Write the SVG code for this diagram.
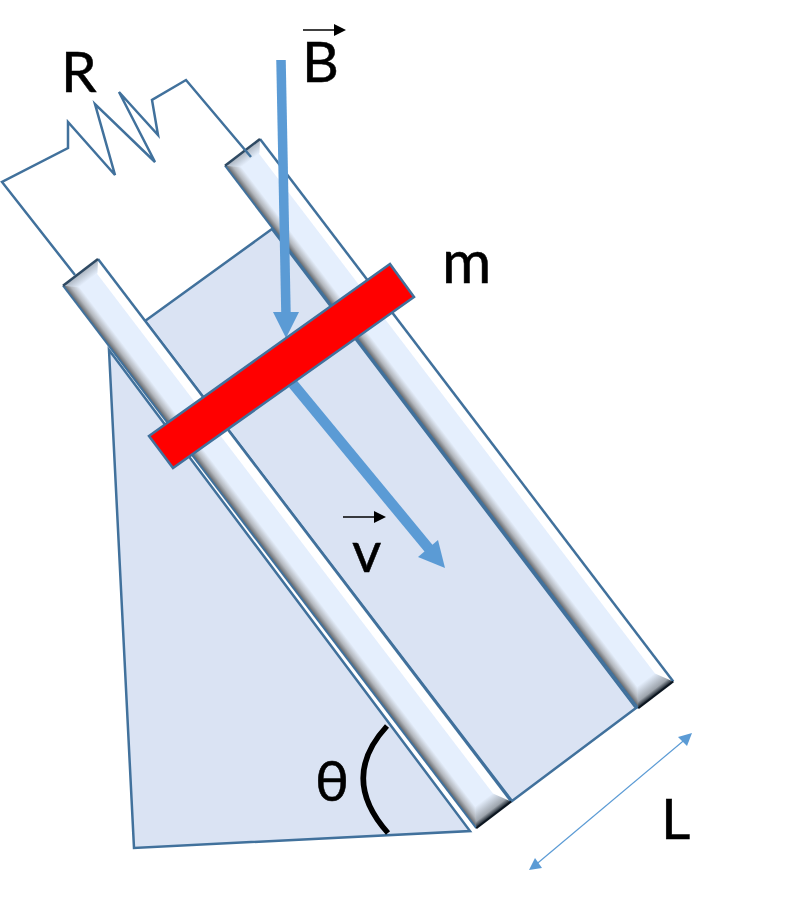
<svg xmlns="http://www.w3.org/2000/svg" width="805" height="897" viewBox="0 0 805 897">
<style>
.e{stroke:#41719c;stroke-width:2.5;stroke-linejoin:miter}
.p{fill:#dae3f3}
.w{fill:none}
.t{font-family:Lato,"Liberation Sans",sans-serif;font-size:57px;fill:#000;stroke:#000;stroke-width:0.5}
.b{stroke:#5b9bd5;stroke-width:9.5;fill:none}
.h{fill:#5b9bd5}
.k{stroke:#000;stroke-width:1.5}
</style>
<defs>
<linearGradient id="across" x1="0" y1="0" x2="0" y2="44" gradientUnits="userSpaceOnUse">
<stop offset="0" stop-color="#ffffff"/><stop offset="0.21" stop-color="#ffffff"/><stop offset="0.23" stop-color="#e5effd"/><stop offset="0.72" stop-color="#e5effd"/><stop offset="0.87" stop-color="#b4b8be"/><stop offset="0.97" stop-color="#6f7276"/><stop offset="1" stop-color="#6e7f90"/>
</linearGradient>
<linearGradient id="topb" x1="0" y1="0" x2="11" y2="0" gradientUnits="userSpaceOnUse">
<stop offset="0" stop-color="#a9b2bd"/><stop offset="1" stop-color="#e5effd"/>
</linearGradient>
<linearGradient id="botb" x1="664" y1="0" x2="682" y2="0" gradientUnits="userSpaceOnUse">
<stop offset="0" stop-color="#e5effd"/><stop offset="0.7" stop-color="#9da4ac"/><stop offset="1" stop-color="#0c1620"/>
</linearGradient>
<g id="rail">
<rect width="682" height="44" fill="url(#across)"/>
<polygon points="0,0 11,9 11,32 0,44" fill="url(#topb)"/>
<polygon points="682,0 664,10 664,32 682,44" fill="url(#botb)"/>
<path d="M0,0 L682,0" fill="none" stroke="#41719c" stroke-width="2.5"/>
<path d="M0,44 L682,44" fill="none" stroke="#41719c" stroke-width="2"/>
<path d="M0,44 L0,0" fill="none" stroke="#2f4a63" stroke-width="2.5"/>
<path d="M682,0 L682,44" fill="none" stroke="#0c1620" stroke-width="2"/>
</g>
</defs>
<g id="incline"><polygon class="p e" points="109,350 134,848 470,831" stroke-width="2"/></g>
<g id="plane"><polygon class="p e" points="145,321 272,229 636,708 512,801"/></g>
<g id="rail-left"><use href="#rail" transform="translate(98,259) rotate(52.7)"/></g>
<g id="rail-right"><use href="#rail" transform="translate(260,139) rotate(52.7)"/></g>
<g id="connectors">
<polyline class="e w" points="75,275 2,182 68,148 68,122 115,175 95,104 155,162 119,92 158,135 152,100 186,80 251,157"/>
<line class="b" x1="293" y1="384" x2="430" y2="550" style="stroke-width:10.5"/>
<polygon class="h" points="445,568 418,557 438,540"/>
<line class="b" x1="281" y1="60" x2="286" y2="315"/>
<polygon class="h" points="286,338 273,312 299,312"/>
<line x1="533" y1="867" x2="688" y2="737" stroke="#5b9bd5" stroke-width="1.2"/>
<polygon class="h" points="529,870 542,868 535,858"/>
<polygon class="h" points="692,733 678,737 687,746"/>
<line class="k" x1="303" y1="30" x2="336" y2="30"/>
<polygon points="346,30 334,24 334,36" fill="#000"/>
<line class="k" x1="343" y1="517" x2="376" y2="517"/>
<polygon points="386,517 374,511 374,523" fill="#000"/>
<path d="M387,726 Q339,778 388,833" fill="none" stroke="#000" stroke-width="5.5"/>
</g>
<g id="bar"><polygon points="149,436 390,264 414,297 173,468" fill="#ff0000" class="e"/></g>
<g id="labels">
<text class="t" x="61" y="92">R</text>
<text class="t" x="302" y="82">B</text>
<text class="t" x="442" y="283" style="font-size:60px">m</text>
<text class="t" x="352" y="572">v</text>
<text class="t" x="661" y="839">L</text>
<text class="t" x="315" y="801">θ</text>
</g>
</svg>
